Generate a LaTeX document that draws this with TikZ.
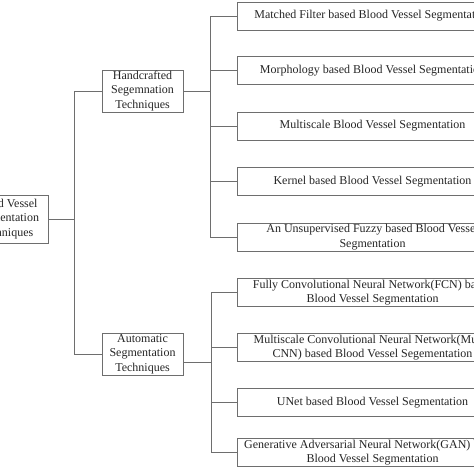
\documentclass[tikz,border=0pt]{standalone}
\usepackage{fontspec}
\setmainfont{Liberation Serif}
\definecolor{linegray}{HTML}{6E6E6E}
\tikzset{
  box/.style={draw=linegray, line width=0.9pt, fill=white, align=center, inner xsep=2pt, inner ysep=0pt,
    font=\fontsize{12}{14.5}\selectfont, text=black!85},
  leafbox/.style={box, minimum width=271pt, minimum height=28pt},
  midbox/.style={box, minimum width=81pt, minimum height=42pt},
  conn/.style={draw=linegray, line width=0.9pt}
}
\begin{document}
\begin{tikzpicture}[x=1pt,y=-1pt]
\useasboundingbox (0,0) rectangle (474,474);
\clip (0,0) rectangle (474,474);
\fill[white] (0,0) rectangle (474,474);
% main box, left side cut off
\node[box, minimum width=84pt, minimum height=48pt] (root) at (6,219) {Blood Vessel\\Segmentation\\Techniques};
% two families
\node[midbox] (hand) at (142.5,91) {Handcrafted\\Segemnation\\Techniques};
\node[midbox] (auto) at (142.5,354) {Automatic\\Segmentation\\Techniques};
% handcrafted methods
\node[leafbox] (m1) at (372.5,16) {Matched Filter based Blood Vessel Segmentation};
\node[leafbox] (m2) at (372.5,70.5) {Morphology based Blood Vessel Segmentation};
\node[leafbox] (m3) at (372.5,126) {Multiscale Blood Vessel Segmentation};
\node[leafbox] (m4) at (372.5,181.5) {Kernel based Blood Vessel Segmentation};
\node[leafbox] (m5) at (372.5,237) {An Unsupervised Fuzzy based Blood Vessel\\Segmentation};
% automatic methods
\node[leafbox] (a1) at (372.5,292.5) {Fully Convolutional Neural Network(FCN) based\\Blood Vessel Segmentation};
\node[leafbox] (a2) at (372.5,347.5) {Multiscale Convolutional Neural Network(Multi-\\CNN) based Blood Vessel Segementation};
\node[leafbox] (a3) at (372.5,402.5) {UNet based Blood Vessel Segmentation};
\node[leafbox] (a4) at (372.5,452.5) {Generative Adversarial Neural Network(GAN) based\\Blood Vessel Segmentation};
% connectors
\coordinate (trunk) at (74,0);
\coordinate (hb) at (210,0);
\coordinate (ab) at (211,0);
\coordinate (aout) at ([yshift=-8pt]auto.east);
\draw[conn] (root.east) -- (trunk |- root.east);
\draw[conn] (hand.west) -| (trunk |- auto.west) -- (auto.west);
\draw[conn] (hand.east) -- (hb |- hand.east);
\draw[conn] (m1.west) -| (hb |- m5.west) -- (m5.west);
\foreach \i in {2,3,4}
  \draw[conn] (m\i.west) -- (hb |- m\i.west);
\draw[conn] (aout) -- (ab |- aout);
\draw[conn] (a1.west) -| (ab |- a4.west) -- (a4.west);
\foreach \i in {2,3}
  \draw[conn] (a\i.west) -- (ab |- a\i.west);
\end{tikzpicture}
\end{document}
